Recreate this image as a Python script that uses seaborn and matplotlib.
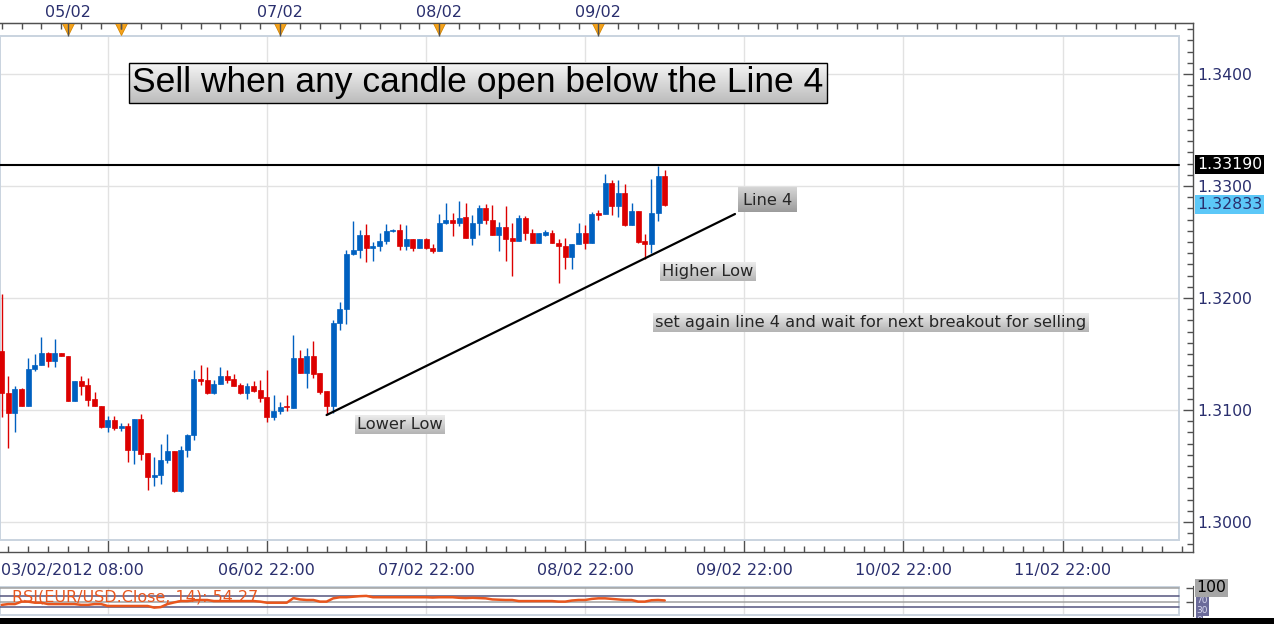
import numpy as np
import pandas as pd
import matplotlib
matplotlib.use("Agg")
import matplotlib.pyplot as plt
import matplotlib.transforms as mtransforms
from matplotlib.patches import Rectangle
from matplotlib.colors import LinearSegmentedColormap
from matplotlib.ticker import MultipleLocator, FixedLocator
import seaborn as sns

# hourly EUR/USD candles (index 0 = first candle on the left)
opens = [1.3153, 1.3115, 1.3097, 1.3119, 1.3104, 1.3137, 1.3140, 1.3151, 1.3144, 1.3151,
         1.3148, 1.3108, 1.3126, 1.3122, 1.3110, 1.3104, 1.3085, 1.3091, 1.3084, 1.3086,
         1.3064, 1.3092, 1.3062, 1.3040, 1.3042, 1.3055, 1.3063, 1.3028, 1.3064, 1.3078,
         1.3128, 1.3127, 1.3115, 1.3123, 1.3130, 1.3128, 1.3122, 1.3115, 1.3121, 1.3118,
         1.3112, 1.3094, 1.3099, 1.3104, 1.3102, 1.3146, 1.3133, 1.3148, 1.3133, 1.3117,
         1.3104, 1.3178, 1.3190, 1.3239, 1.3243, 1.3256, 1.3245, 1.3246, 1.3251, 1.3260,
         1.3261, 1.3246, 1.3253, 1.3245, 1.3253, 1.3245, 1.3242, 1.3267, 1.3270, 1.3267,
         1.3272, 1.3254, 1.3267, 1.3280, 1.3270, 1.3256, 1.3263, 1.3254, 1.3251, 1.3271,
         1.3258, 1.3249, 1.3256, 1.3258, 1.3249, 1.3246, 1.3237, 1.3248, 1.3258, 1.3249,
         1.3276, 1.3275, 1.3303, 1.3282, 1.3294, 1.3265, 1.3278, 1.3251, 1.3248, 1.3276,
         1.3309]
highs = [1.3204, 1.3130, 1.3121, 1.3120, 1.3146, 1.3150, 1.3165, 1.3152, 1.3163, 1.3151,
         1.3148, 1.3126, 1.3130, 1.3129, 1.3116, 1.3104, 1.3095, 1.3095, 1.3088, 1.3088,
         1.3092, 1.3096, 1.3062, 1.3058, 1.3070, 1.3079, 1.3063, 1.3068, 1.3079, 1.3136,
         1.3140, 1.3138, 1.3127, 1.3138, 1.3136, 1.3132, 1.3124, 1.3124, 1.3126, 1.3127,
         1.3136, 1.3113, 1.3107, 1.3113, 1.3167, 1.3154, 1.3155, 1.3162, 1.3133, 1.3117,
         1.3180, 1.3196, 1.3243, 1.3269, 1.3261, 1.3266, 1.3250, 1.3258, 1.3266, 1.3262,
         1.3266, 1.3265, 1.3253, 1.3253, 1.3254, 1.3248, 1.3275, 1.3285, 1.3276, 1.3287,
         1.3285, 1.3274, 1.3283, 1.3284, 1.3283, 1.3268, 1.3282, 1.3267, 1.3274, 1.3273,
         1.3262, 1.3258, 1.3261, 1.3261, 1.3253, 1.3254, 1.3248, 1.3267, 1.3265, 1.3277,
         1.3279, 1.3311, 1.3305, 1.3305, 1.3302, 1.3285, 1.3278, 1.3257, 1.3306, 1.3318,
         1.3314]
lows = [1.3094, 1.3066, 1.3080, 1.3104, 1.3104, 1.3135, 1.3140, 1.3138, 1.3138, 1.3148,
        1.3108, 1.3108, 1.3113, 1.3104, 1.3104, 1.3084, 1.3080, 1.3082, 1.3081, 1.3054,
        1.3052, 1.3055, 1.3029, 1.3032, 1.3034, 1.3053, 1.3027, 1.3027, 1.3058, 1.3073,
        1.3122, 1.3114, 1.3114, 1.3123, 1.3124, 1.3121, 1.3114, 1.3110, 1.3116, 1.3107,
        1.3089, 1.3091, 1.3096, 1.3099, 1.3102, 1.3133, 1.3120, 1.3129, 1.3114, 1.3096,
        1.3097, 1.3171, 1.3177, 1.3238, 1.3236, 1.3232, 1.3233, 1.3242, 1.3248, 1.3259,
        1.3243, 1.3243, 1.3242, 1.3245, 1.3244, 1.3240, 1.3242, 1.3266, 1.3255, 1.3264,
        1.3254, 1.3247, 1.3256, 1.3266, 1.3256, 1.3242, 1.3233, 1.3220, 1.3251, 1.3252,
        1.3249, 1.3249, 1.3255, 1.3249, 1.3213, 1.3226, 1.3226, 1.3248, 1.3244, 1.3249,
        1.3270, 1.3275, 1.3274, 1.3272, 1.3264, 1.3265, 1.3249, 1.3235, 1.3240, 1.3269,
        1.3282]
closes = [1.3115, 1.3097, 1.3119, 1.3104, 1.3137, 1.3140, 1.3151, 1.3144, 1.3151, 1.3148,
          1.3108, 1.3126, 1.3121, 1.3109, 1.3104, 1.3085, 1.3091, 1.3084, 1.3086, 1.3064,
          1.3092, 1.3061, 1.3040, 1.3042, 1.3055, 1.3063, 1.3028, 1.3064, 1.3078, 1.3128,
          1.3126, 1.3115, 1.3123, 1.3130, 1.3127, 1.3121, 1.3115, 1.3121, 1.3117, 1.3111,
          1.3094, 1.3099, 1.3103, 1.3103, 1.3146, 1.3133, 1.3148, 1.3132, 1.3116, 1.3104,
          1.3178, 1.3190, 1.3239, 1.3243, 1.3256, 1.3245, 1.3246, 1.3251, 1.3260, 1.3261,
          1.3246, 1.3253, 1.3245, 1.3253, 1.3245, 1.3242, 1.3267, 1.3270, 1.3267, 1.3271,
          1.3254, 1.3267, 1.3280, 1.3270, 1.3256, 1.3263, 1.3253, 1.3251, 1.3271, 1.3258,
          1.3249, 1.3258, 1.3259, 1.3249, 1.3246, 1.3237, 1.3248, 1.3258, 1.3249, 1.3275,
          1.3274, 1.3303, 1.3282, 1.3294, 1.3265, 1.3278, 1.3250, 1.3248, 1.3276, 1.3309,
          1.3283]
rsi = [38, 41, 41, 50, 50, 46, 46, 41, 41, 41,
       41, 41, 38, 38, 41, 41, 34, 34, 34, 34,
       34, 34, 34, 28, 30, 41, 47, 52, 52, 55,
       56, 56, 52, 52, 52, 52, 52, 52, 52, 50,
       46, 46, 46, 46, 63, 58, 56, 56, 50, 50,
       62, 66, 66, 68, 70, 71, 66, 66, 66, 66,
       66, 66, 66, 66, 66, 65, 66, 66, 66, 64,
       63, 64, 63, 62, 58, 57, 56, 56, 52, 52,
       52, 52, 52, 52, 50, 50, 54, 56, 56, 60,
       62, 62, 60, 58, 56, 56, 50, 50, 55, 56,
       54.27]

x_ticks = [16, 40, 64, 88, 112, 136, 160]
x_labels = ["03/02/2012 08:00", "06/02 22:00", "07/02 22:00", "08/02 22:00",
            "09/02 22:00", "10/02 22:00", "11/02 22:00"]
top_ticks = [10, 42, 66, 90]
top_labels = ["05/02", "07/02", "08/02", "09/02"]
event_ticks = [10, 18, 42, 66, 90]
price_ticks = [1.30, 1.31, 1.32, 1.33, 1.34]
rsi_labels = ["100", "70", "30", "0"]
resistance = 1.3319
last_price = 1.32833
trend_x = [49, 110.6]
trend_y = [1.30955, 1.3275]

BLUE = "#0060c0"
RED = "#dc0000"
GRID = "#e2e2e2"
FRAME = "#c9d3df"
NAVY = "#2a2f6e"

sns.set_style("white")
plt.rcParams["font.family"] = ["DejaVu Sans"]

df = pd.DataFrame({"open": opens, "high": highs, "low": lows, "close": closes, "rsi": rsi})
df["idx"] = np.arange(len(df))
df["color"] = np.where(df["close"] >= df["open"], BLUE, RED)

fig = plt.figure(figsize=(12.74, 6.24), dpi=100)
W, H = 1274, 624
ax = fig.add_axes([0, 72 / H, 1193 / W, 529 / H])
rax = fig.add_axes([0, 8 / H, 1193 / W, 30 / H])

xlim = (-0.256, 179.68)
ylim = (1.297321, 1.344554)
ax.set_xlim(*xlim)
ax.set_ylim(*ylim)

# inner plot frame (light border inside the outer axis frame)
x1f = 1179 / 1193
y0f, y1f = 12 / 529, 516 / 529
ax.add_patch(Rectangle((0, y0f), x1f, y1f - y0f, transform=ax.transAxes,
                       fill=False, ec=FRAME, lw=1.4, zorder=1))
for t in x_ticks:
    ax.axvline(t, ymin=y0f, ymax=y1f, color=GRID, lw=1, zorder=0)
for p in price_ticks:
    ax.axhline(p, xmin=0, xmax=x1f, color=GRID, lw=1, zorder=0)

# candles
ax.vlines(df["idx"], df["low"], df["high"], colors=df["color"], lw=1.0, zorder=3)
ax.bar(df["idx"], df["close"] - df["open"], bottom=df["open"], width=0.75,
       color=df["color"], edgecolor=df["color"], lw=0.5, zorder=4)

# resistance line and trend line
ax.axhline(resistance, xmin=0, xmax=x1f, color="black", lw=1.5, zorder=5)
ax.plot(trend_x, trend_y, color="black", lw=1.6, zorder=5)

# event markers along the top
tr = mtransforms.blended_transform_factory(ax.transData, ax.transAxes)
ax.plot(event_ticks, [0.989] * len(event_ticks), "v", transform=tr, ms=8,
        color="#f5a21b", mec="#d58600", mew=0.6, clip_on=False, zorder=6)

# spines and ticks
for s in ["top", "right", "bottom"]:
    ax.spines[s].set_color("#505050")
    ax.spines[s].set_linewidth(1)
ax.spines["left"].set_visible(False)

ax_top = ax.twiny()
ax_top.set_xlim(*xlim)
for s in ["left", "right", "bottom"]:
    ax_top.spines[s].set_visible(False)
ax_top.spines["top"].set_color("#505050")
ax_top.set_xticks(top_ticks)
ax_top.set_xticklabels(top_labels)
ax_top.xaxis.set_minor_locator(FixedLocator(list(range(0, 180, 3)) + event_ticks))
ax_top.tick_params(axis="x", which="major", direction="in", length=9, width=1,
                   color="#505050", labelsize=11.5, labelcolor=NAVY, pad=2)
ax_top.tick_params(axis="x", which="minor", direction="in", length=4.5, width=1,
                   color="#505050")

ax.xaxis.tick_bottom()
ax.set_xticks(x_ticks)
ax.set_xticklabels(x_labels)
ax.xaxis.set_minor_locator(FixedLocator(list(range(1, 180, 3))))
ax.tick_params(axis="x", which="major", direction="in", length=8.5, width=1,
               color="#505050", labelsize=11.5, labelcolor=NAVY, pad=8)
ax.tick_params(axis="x", which="minor", direction="in", length=4.3, width=1,
               color="#505050")
first = ax.get_xticklabels()[0]
first.set_transform(first.get_transform() +
                    mtransforms.ScaledTranslation(-35 / 100, 0, fig.dpi_scale_trans))

ax.yaxis.tick_right()
ax.set_yticks(price_ticks)
ax.set_yticklabels([f"{p:.4f}" for p in price_ticks])
ax.yaxis.set_minor_locator(MultipleLocator(0.001))
ax.tick_params(axis="y", which="major", direction="in", length=7, width=1,
               color="#505050", labelsize=11.3, labelcolor=NAVY, pad=3)
ax.tick_params(axis="y", which="minor", direction="in", length=4, width=1,
               color="#505050")

# price tags on the right axis
ax.annotate(f"{resistance:.5f}", xy=(1, resistance), xycoords=("axes fraction", "data"),
            xytext=(3, 0), textcoords="offset points", ha="left", va="center",
            fontsize=11.3, color="white", annotation_clip=False,
            bbox=dict(boxstyle="square,pad=0.12", fc="black", ec="none"))
ax.annotate(f"{last_price:.5f}", xy=(1, last_price), xycoords=("axes fraction", "data"),
            xytext=(3, 0), textcoords="offset points", ha="left", va="center",
            fontsize=11.3, color=NAVY, annotation_clip=False,
            bbox=dict(boxstyle="square,pad=0.12", fc="#5cc8f8", ec="none"))

# annotations (boxes get a grey gradient below)
title = ax.text(71.8, 1.3392, "Sell when any candle open below the Line 4",
                family=["Liberation Sans", "DejaVu Sans"], fontsize=25.5, ha="center",
                va="center", color="black", zorder=7,
                bbox=dict(boxstyle="square,pad=0.1", fc="#d4d4d4", ec="black", lw=1))
line4 = ax.text(115.5, 1.32875, "Line 4", fontsize=11.7, ha="center", va="center",
                zorder=7, bbox=dict(boxstyle="square,pad=0.3", fc="#b4b4b4", ec="none"))
higher = ax.text(106.5, 1.32237, "Higher Low", fontsize=11.7, ha="center", va="center",
                 zorder=7, bbox=dict(boxstyle="square,pad=0.12", fc="#c2c2c2", ec="none"))
again = ax.text(131.1, 1.31777, "set again line 4 and wait for next breakout for selling",
                fontsize=11.7, ha="center", va="center", zorder=7,
                bbox=dict(boxstyle="square,pad=0.12", fc="#c2c2c2", ec="none"))
lower = ax.text(60.0, 1.30871, "Lower Low", fontsize=11.7, ha="center", va="center",
                zorder=7, bbox=dict(boxstyle="square,pad=0.12", fc="#c2c2c2", ec="none"))

# RSI panel
rax.set_xlim(*xlim)
rax.set_ylim(-2.75, 107.3)
rax.add_patch(Rectangle((0, 0.03), x1f, 0.94, transform=rax.transAxes,
                        fill=False, ec=FRAME, lw=1.4, zorder=1))
for t in x_ticks:
    rax.axvline(t, color=GRID, lw=1, zorder=0)
for lvl, col in [(100, "#a0a0a0"), (70, "#55557f"), (50, "#a0a0a0"), (30, "#55557f")]:
    rax.axhline(lvl, xmin=0, xmax=x1f, color=col, lw=1.1, zorder=1)
sns.lineplot(data=df, x="idx", y="rsi", ax=rax, color="#e8561e", lw=1.8, zorder=3)
rax.text(12 / 1193, 0.62, "RSI(EUR/USD.Close, 14): 54.27", transform=rax.transAxes,
         fontsize=11.5, color="#e8561e", va="center", ha="left", zorder=4)
for s in ["top", "left", "bottom"]:
    rax.spines[s].set_visible(False)
rax.spines["right"].set_color("#505050")
rax.set_xlabel("")
rax.set_ylabel("")
rax.set_xticks([])
rax.yaxis.tick_right()
rax.set_yticks([100, 50])
rax.set_yticklabels([])
rax.tick_params(axis="y", direction="in", length=5, width=1, color="#505050")

# RSI scale labels stacked under each other like the platform's cramped scale
rsi_tag = rax.annotate(rsi_labels[0], xy=(1, 1), xycoords="axes fraction",
                       xytext=(2.5, 4), textcoords="offset points", ha="left", va="top",
                       fontsize=11.3, color="black", annotation_clip=False, zorder=5,
                       bbox=dict(boxstyle="square,pad=0.08", fc="#a6a6a6", ec="none"))
for lab in rsi_labels[1:]:
    rsi_tag = rax.annotate(lab, xy=(0, 0), xycoords=rsi_tag, xytext=(0, -0.5),
                           textcoords="offset points", ha="left", va="top",
                           fontsize=6.5, color="#d8d8ee", annotation_clip=False, zorder=4,
                           bbox=dict(boxstyle="square,pad=0.08", fc="#6b6b9a", ec="none"))

fig.add_artist(Rectangle((0, 0), 1, 6 / H, transform=fig.transFigure,
                         fc="black", ec="none", zorder=10))

# replace the flat label boxes with a vertical grey gradient
fig.canvas.draw()
renderer = fig.canvas.get_renderer()
inv = ax.transData.inverted()
grad = np.linspace(0, 1, 64).reshape(-1, 1)
for txt, ctop, cbot in [(title, "#f6f6f6", "#bcbcbc"), (line4, "#d6d6d6", "#9c9c9c"),
                        (higher, "#ececec", "#b4b4b4"), (again, "#ececec", "#b4b4b4"),
                        (lower, "#ececec", "#b4b4b4")]:
    patch = txt.get_bbox_patch()
    bb = patch.get_window_extent(renderer)
    (bx0, by0), (bx1, by1) = inv.transform([[bb.x0, bb.y0], [bb.x1, bb.y1]])
    cmap = LinearSegmentedColormap.from_list("box", [ctop, cbot])
    ax.imshow(grad, extent=[bx0, bx1, by0, by1], origin="upper", cmap=cmap,
              aspect="auto", interpolation="bilinear", zorder=6.5)
    patch.set_facecolor("none")
ax.set_aspect("auto")
ax.set_xlim(*xlim)
ax.set_ylim(*ylim)

fig.savefig("out.png", dpi=100)
